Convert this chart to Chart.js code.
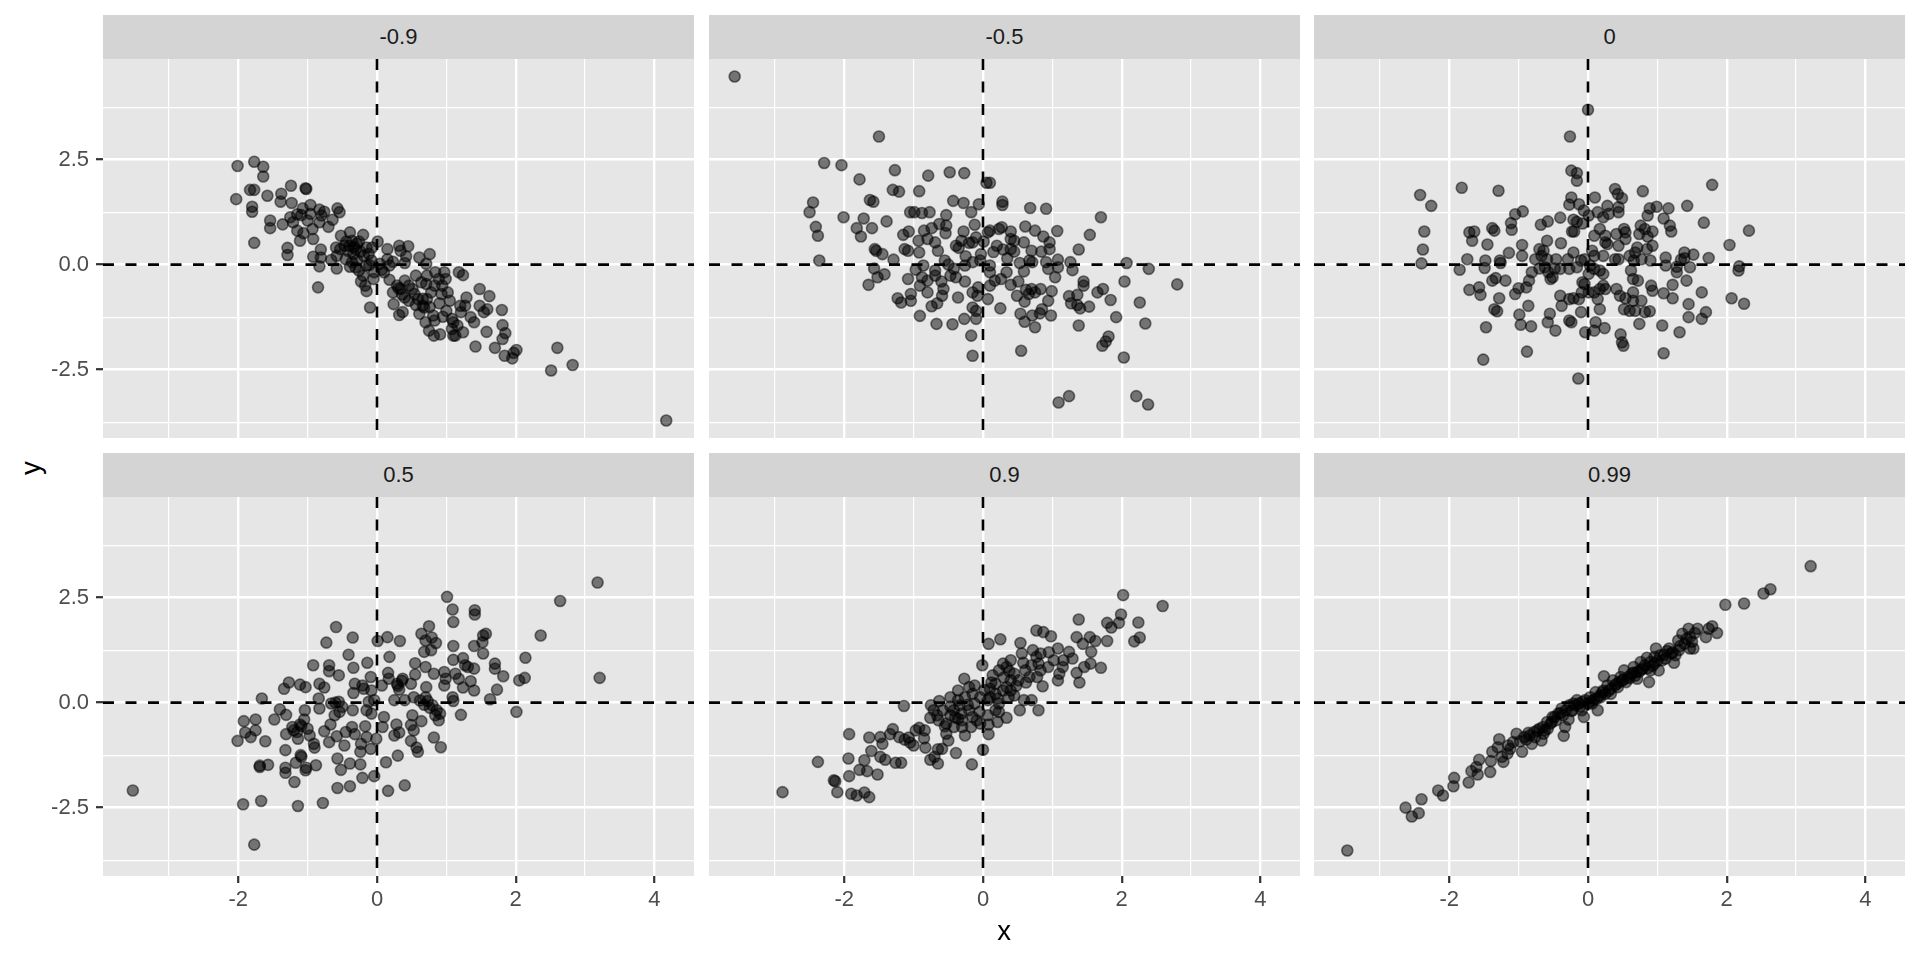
<!DOCTYPE html>
<html>
<head>
<meta charset="utf-8">
<script src="https://cdn.jsdelivr.net/npm/chart.js@4.4.1/dist/chart.umd.min.js"></script>
<style>
  html, body { margin: 0; padding: 0; background: #FFFFFF; }
  body { width: 1920px; height: 960px; position: relative; overflow: hidden;
         font-family: "Liberation Sans", Arial, Helvetica, sans-serif; }
  .strip { position: absolute; background: #D4D4D4; color: #1A1A1A; font-size: 22px;
           display: flex; align-items: center; justify-content: center; }
  canvas { position: absolute; }
  .axtitle { position: absolute; font-size: 27.5px; color: #000000; line-height: 1; white-space: nowrap; }
</style>
</head>
<body>
<script>
// ---------------- DATA ----------------
const panelLabels = ['-0.9', '-0.5', '0', '0.5', '0.9', '0.99'];

const rho_m09 = [[-2.01,2.35],[-1.77,2.45],[-1.64,2.33],[-1.64,2.10],[-1.83,1.78],[-1.77,1.78],[-2.03,1.56],[-1.80,1.38],[-1.80,1.26],[-1.58,1.64],[-1.38,1.69],[-1.39,1.50],[-1.24,1.88],[-1.02,1.80],[-1.03,1.82],[-1.23,1.47],[-1.07,1.34],[-0.96,1.42],[-0.83,1.31],[-0.76,1.26],[-0.57,1.34],[-0.54,1.25],[-0.64,1.07],[-0.80,1.17],[-0.96,1.21],[-1.09,1.18],[-1.25,1.13],[-1.36,0.96],[-1.54,1.05],[-1.54,0.87],[-1.77,0.52],[-1.29,0.40],[-1.29,0.23],[-1.21,1.01],[-1.15,0.81],[-1.11,0.57],[-1.06,0.75],[-0.93,0.85],[-0.92,0.61],[-0.83,1.01],[-0.81,0.36],[-0.92,0.19],[-0.81,0.17],[-0.83,-0.04],[-0.85,-0.54],[-0.66,0.11],[-0.59,0.41],[-0.58,-0.09],[-0.52,0.69],[-0.47,0.45],[-0.39,0.77],[-0.36,0.57],[-0.31,0.37],[-0.26,0.55],[-0.20,0.71],[-0.15,0.41],[-0.07,0.41],[0.01,0.55],[-0.45,0.13],[-0.36,0.06],[-0.31,-0.06],[-0.26,-0.14],[-0.20,-0.26],[-0.17,-0.50],[-0.15,-0.63],[-0.10,-1.02],[-0.05,-0.34],[-0.08,0.10],[0.04,0.02],[0.10,-0.18],[0.18,-0.36],[0.15,0.37],[0.23,0.07],[0.32,0.45],[0.34,0.33],[0.40,0.04],[0.45,0.44],[0.42,0.20],[0.61,0.17],[0.76,0.25],[0.71,0.02],[0.29,-0.50],[0.23,-0.66],[0.24,-0.94],[0.32,-1.20],[0.37,-1.13],[0.40,-0.78],[0.51,-0.58],[0.56,-0.26],[0.59,-0.82],[0.61,-1.17],[0.68,-1.02],[0.70,-1.37],[0.72,-0.82],[0.75,-1.57],[0.82,-1.69],[0.83,-1.33],[0.84,-0.18],[0.91,-1.66],[0.93,-0.70],[0.97,-0.18],[0.99,-0.34],[1.02,-0.66],[1.05,-0.86],[1.08,-1.29],[1.10,-1.69],[1.18,-0.18],[1.24,-0.25],[1.08,-1.53],[1.21,-1.13],[1.29,-0.78],[1.27,-0.98],[1.35,-1.25],[1.40,-1.37],[1.48,-0.58],[1.48,-0.98],[1.54,-1.13],[1.59,-1.06],[1.62,-0.75],[1.58,-1.60],[1.42,-1.95],[1.70,-1.98],[1.80,-1.08],[1.81,-1.44],[1.85,-1.63],[1.81,-1.77],[1.84,-2.17],[1.95,-2.23],[1.97,-2.10],[2.01,-2.03],[2.60,-1.98],[2.51,-2.52],[2.82,-2.39],[4.17,-3.71],[0.66,-0.98],[0.78,-0.66],[0.83,-0.50],[0.89,-0.34],[0.72,-0.26],[0.64,-0.42],[0.54,-0.70],[0.46,-0.50],[0.40,-0.38],[0.34,-0.58],[0.94,-0.50],[1.16,-1.45],[1.10,-1.37],[1.24,-1.61],[1.13,-1.69],[0.15,0.13],[0.18,-0.02],[0.07,-0.12],[-0.04,-0.18],[-0.15,-0.02],[-0.34,0.25],[-0.42,0.33],[-0.53,0.37],[-0.58,0.21],[-0.44,0.55],[-0.40,0.45],[-0.33,0.42],[-0.29,0.50],[-0.24,0.31],[-0.19,0.21],[-0.12,0.26],[-0.11,-0.01],[-0.29,0.11],[-0.39,-0.05],[-0.23,-0.40],[0.31,-0.56],[0.36,-0.71],[0.46,-0.86],[0.56,-0.96],[0.66,-0.81],[0.76,-1.01],[0.81,-1.21],[0.95,-1.24],[1.00,-1.10],[0.71,-0.46],[0.90,-0.92],[1.20,-0.98],[-1.00,1.05],[-1.15,1.20],[-0.70,0.90]];

const rho_m05 = [[-3.58,4.48],[-1.50,3.05],[-2.29,2.42],[-2.04,2.37],[-1.78,2.03],[-1.27,2.25],[-0.79,2.12],[-0.48,2.20],[-0.27,2.18],[0.05,1.95],[0.10,1.95],[-2.45,1.48],[-2.50,1.25],[-2.41,0.90],[-2.38,0.69],[-2.36,0.10],[-2.01,1.13],[-1.82,0.87],[-1.76,0.67],[-1.72,1.10],[-1.60,0.87],[-1.63,1.54],[-1.58,1.50],[-1.30,1.78],[-1.21,1.74],[-0.92,1.75],[-1.39,1.03],[-1.56,0.37],[-1.54,0.33],[-1.45,0.25],[-1.57,-0.09],[-1.52,-0.30],[-1.42,-0.23],[-1.65,-0.48],[-1.29,0.12],[-1.15,0.71],[-1.07,0.79],[-1.05,1.25],[-0.99,1.25],[-0.88,1.23],[-0.77,1.25],[-0.53,1.18],[-0.43,1.52],[-0.28,1.47],[-0.17,1.25],[-0.06,1.44],[0.28,1.50],[0.28,1.42],[0.68,1.35],[0.91,1.33],[1.70,1.13],[1.54,0.71],[1.38,0.36],[1.07,0.80],[0.96,0.53],[0.96,0.37],[0.84,0.31],[0.87,0.67],[0.75,0.81],[0.61,0.91],[0.40,0.79],[0.27,0.89],[0.10,0.81],[-0.12,0.95],[-0.28,0.79],[-0.53,0.93],[-0.63,0.97],[-0.74,0.87],[-0.85,0.81],[-0.54,0.75],[-0.69,0.53],[-0.80,0.61],[-0.93,0.57],[-1.08,0.33],[-1.13,0.37],[-0.92,0.29],[-0.65,0.33],[-0.39,0.45],[-0.31,0.57],[-0.20,0.52],[-0.15,0.53],[0.01,0.55],[-0.03,0.25],[0.07,0.77],[0.23,0.85],[0.40,0.61],[0.45,0.57],[0.59,0.53],[0.29,0.36],[0.40,0.37],[0.45,0.31],[0.70,0.33],[0.67,0.10],[0.53,0.04],[0.59,-0.16],[0.71,0.06],[0.91,0.06],[1.08,0.12],[1.08,-0.06],[1.26,0.06],[1.29,-0.13],[0.94,-0.10],[1.04,-0.30],[0.99,-0.63],[0.94,-0.86],[0.85,-1.06],[0.82,-1.16],[0.98,-1.21],[0.71,-1.21],[0.75,-1.49],[0.60,-1.36],[0.54,-1.17],[0.60,-0.88],[0.49,-0.74],[0.70,-0.58],[0.75,-0.66],[0.83,-0.58],[0.40,-0.48],[0.51,-0.40],[0.34,-0.18],[0.26,-0.34],[0.17,-0.38],[0.10,-0.18],[0.10,-0.50],[0.07,-0.82],[0.25,-1.04],[0.55,-2.05],[-0.15,-1.02],[-0.10,-1.10],[-0.10,-1.29],[-0.17,-1.69],[-0.15,-2.17],[-0.27,-1.29],[-0.44,-1.42],[-0.67,-1.41],[-0.91,-1.22],[-0.74,-0.99],[-0.66,-0.92],[-0.59,-0.74],[-0.57,-0.58],[-0.36,-0.78],[-0.15,-0.66],[-0.07,-0.54],[-0.08,-0.74],[-0.26,-0.40],[-0.39,-0.30],[-0.47,-0.26],[-0.69,-0.26],[-0.80,-0.38],[-0.91,-0.50],[-0.80,-0.66],[-1.04,-0.70],[-1.04,-0.86],[-1.23,-0.80],[-1.18,-0.90],[-1.08,-0.34],[-0.97,-0.12],[-0.86,-0.02],[-0.88,-0.30],[-0.69,-0.14],[-0.55,0.10],[-0.42,-0.10],[-0.26,-0.02],[-0.15,0.06],[-0.04,0.10],[0.10,-0.02],[2.07,0.04],[2.39,-0.10],[2.04,-0.40],[2.80,-0.47],[2.26,-0.90],[2.34,-1.40],[1.92,-1.25],[1.84,-0.84],[1.73,-0.58],[1.65,-0.66],[1.53,-1.00],[1.40,-1.04],[1.36,-0.96],[1.27,-0.92],[1.24,-0.75],[1.36,-0.72],[1.45,-0.40],[1.45,-0.50],[1.38,-1.45],[1.81,-1.71],[1.72,-1.93],[1.77,-1.83],[2.03,-2.21],[1.09,-3.28],[1.24,-3.13],[2.21,-3.13],[2.38,-3.33],[-0.35,0.40],[-0.25,0.20],[0.20,0.45],[0.35,0.15],[0.62,-0.60],[0.66,-0.70],[-0.60,-0.40],[-0.50,0.00],[0.15,0.30],[-0.10,0.65]];

const rho_0 = [[0.00,3.69],[-0.26,3.05],[-0.24,2.24],[-0.16,2.18],[-0.16,2.00],[-2.42,1.66],[-2.26,1.40],[-1.82,1.83],[-1.29,1.76],[-2.36,0.79],[-2.38,0.36],[-2.40,0.03],[-1.85,-0.12],[-1.74,0.13],[-1.71,0.77],[-1.64,0.79],[-1.67,0.57],[-1.38,0.87],[-1.35,0.81],[-1.45,0.48],[-1.48,0.10],[-1.49,-0.08],[-1.27,0.10],[-1.26,0.04],[-1.14,0.28],[-1.10,0.83],[-1.11,0.99],[-1.05,1.20],[-0.94,1.27],[-0.95,0.47],[-0.68,0.95],[-0.58,1.03],[-0.40,1.12],[-0.39,0.51],[-0.59,0.57],[-0.70,0.37],[-0.76,0.13],[-0.67,0.21],[-0.62,-0.06],[-0.70,-0.09],[-0.57,-0.18],[-0.48,-0.09],[-0.54,-0.34],[-0.40,-0.10],[-0.29,0.13],[-0.21,0.29],[-0.21,1.07],[-0.23,0.79],[-0.20,0.79],[-0.24,1.60],[-0.27,1.43],[-0.13,1.44],[-0.06,1.29],[-0.16,1.02],[-0.08,0.98],[0.10,1.60],[0.01,1.17],[0.14,1.25],[0.22,1.13],[0.28,1.40],[0.39,1.80],[0.43,1.68],[0.49,1.58],[0.44,1.37],[0.44,1.25],[0.30,1.21],[0.17,0.85],[0.09,0.69],[0.25,0.69],[0.28,0.49],[0.41,0.73],[0.52,0.85],[0.54,0.77],[0.54,0.61],[0.44,0.45],[0.06,0.33],[-0.05,0.13],[0.03,-0.02],[0.09,-0.10],[0.17,-0.14],[0.01,-0.22],[-0.08,-0.42],[-0.09,-0.66],[-0.13,-0.82],[-0.10,-1.13],[-0.27,-0.82],[-0.21,-0.80],[-0.38,-0.98],[-0.40,-0.74],[-0.27,-1.33],[-0.24,-1.37],[-0.47,-1.57],[-0.55,-1.17],[-0.58,-1.37],[-0.04,-1.61],[0.09,-1.57],[0.11,-1.37],[0.24,-1.51],[0.14,-0.82],[0.25,-0.58],[0.22,-0.50],[0.41,-0.58],[0.46,-0.74],[0.54,-0.80],[0.65,-0.66],[0.65,-0.86],[0.77,-0.86],[0.52,-1.06],[0.60,-1.10],[0.68,-1.10],[0.82,-1.13],[0.89,-1.11],[0.74,-1.41],[0.47,-1.66],[0.49,-1.85],[0.51,-1.93],[1.07,-1.45],[1.09,-2.11],[1.32,-1.61],[1.45,-1.25],[1.45,-0.94],[1.64,-1.29],[1.70,-1.13],[1.64,-0.66],[1.22,-0.80],[1.09,-0.68],[0.93,-0.62],[0.91,-0.50],[1.22,-0.48],[1.42,-0.38],[1.28,-0.18],[1.47,-0.06],[1.39,0.15],[1.39,0.29],[1.52,0.24],[1.74,0.16],[2.18,-0.04],[2.17,-0.14],[2.07,-0.80],[2.25,-0.93],[2.04,0.47],[2.32,0.81],[1.67,1.00],[1.43,1.40],[1.79,1.90],[1.16,1.34],[0.99,1.38],[0.89,1.34],[0.86,1.17],[1.09,1.10],[1.18,0.93],[1.20,0.79],[0.79,1.75],[0.76,0.93],[0.82,0.85],[0.93,0.79],[0.74,0.73],[0.86,0.67],[0.93,0.45],[0.85,0.37],[0.71,0.41],[0.68,0.29],[0.77,0.13],[0.90,0.10],[0.66,0.10],[0.62,-0.14],[0.65,-0.34],[0.72,-0.38],[1.12,0.17],[1.12,-0.02],[1.28,-0.05],[1.34,0.12],[-0.95,0.21],[-0.81,-0.18],[-0.85,-0.38],[-0.89,-0.54],[-1.00,-0.56],[-1.05,-0.70],[-1.28,-0.80],[-1.33,-0.32],[-1.38,-0.38],[-1.19,-0.38],[-1.57,-0.54],[-1.71,-0.60],[-1.55,-0.72],[-1.35,-1.06],[-1.31,-1.11],[-0.86,-0.98],[-0.99,-1.19],[-0.97,-1.43],[-0.82,-1.47],[-1.47,-1.49],[-0.88,-2.07],[-1.51,-2.26],[-0.14,-2.71],[0.25,0.53],[0.22,0.21],[0.39,0.13],[0.44,0.13],[0.60,0.21],[0.22,-0.22],[0.09,0.21],[-0.16,-0.06],[-0.10,0.10],[-0.27,-0.10],[-0.46,0.13],[-0.59,0.13],[-0.64,0.33],[-0.51,-0.30],[-0.05,-0.46],[0.01,-0.66],[0.09,-0.66],[0.17,-0.58],[0.17,-1.06]];

const rho_05 = [[-3.52,-2.09],[-1.77,-3.38],[-1.93,-2.42],[-1.67,-2.34],[-1.14,-2.46],[-0.78,-2.39],[-0.57,-2.03],[-0.39,-1.99],[-0.21,-1.79],[-0.04,-1.75],[0.16,-2.10],[0.40,-1.97],[0.13,-1.42],[0.30,-1.26],[-1.69,-1.50],[-1.57,-1.48],[-1.69,-1.53],[-1.32,-1.55],[-1.32,-1.67],[-1.19,-1.89],[-1.17,-1.43],[-1.09,-1.29],[-1.03,-1.61],[-1.02,-1.55],[-0.88,-1.49],[-1.32,-1.13],[-2.01,-0.91],[-1.92,-0.44],[-1.90,-0.71],[-1.82,-0.82],[-1.75,-0.40],[-1.75,-0.66],[-1.61,-0.92],[-1.66,0.10],[-1.48,-0.40],[-1.40,-0.16],[-1.31,-0.29],[-1.31,-0.75],[-1.22,-0.58],[-1.20,-0.66],[-1.11,-0.52],[-1.09,-0.56],[-1.14,-0.86],[-1.04,-0.18],[-1.05,-0.40],[-0.97,-0.78],[-0.91,-0.98],[-0.90,-1.07],[-1.10,-1.25],[-1.34,0.33],[-1.27,0.48],[-1.11,0.43],[-1.03,0.37],[-0.92,0.89],[-0.83,0.45],[-0.84,0.10],[-0.83,-0.14],[-0.76,0.36],[-0.73,1.43],[-0.69,0.89],[-0.69,0.75],[-0.59,1.80],[-0.55,0.65],[-0.76,-0.68],[-0.69,-0.94],[-0.67,-0.52],[-0.61,-0.30],[-0.66,-0.02],[-0.55,0.02],[-0.54,-0.22],[-0.57,-1.33],[-0.52,-1.60],[-0.39,-1.45],[-0.24,-1.47],[-0.47,-1.02],[-0.45,-0.70],[-0.58,-0.80],[-0.35,-0.18],[-0.36,-0.58],[-0.32,-0.75],[-0.23,-0.98],[-0.24,-1.17],[-0.09,-1.10],[-0.15,-0.82],[-0.17,-0.56],[-0.01,-0.86],[-0.08,-0.26],[-0.15,-0.18],[-0.12,0.02],[-0.04,0.06],[-0.41,1.14],[-0.35,1.55],[-0.34,0.83],[-0.32,0.45],[-0.34,0.23],[-0.19,0.33],[-0.21,0.41],[-0.14,0.95],[-0.09,0.61],[-0.08,0.29],[0.01,1.47],[0.15,1.56],[0.33,1.47],[0.18,1.09],[0.16,0.71],[0.17,0.57],[0.07,0.41],[0.29,0.45],[0.32,0.31],[0.37,0.57],[0.40,0.06],[0.25,0.06],[0.10,-0.34],[0.08,-0.58],[0.28,-0.52],[0.32,-0.71],[0.25,-0.78],[0.49,-0.53],[0.53,-0.66],[0.51,-0.30],[0.64,-0.44],[0.49,-0.91],[0.57,-1.07],[0.59,-1.17],[0.82,-0.83],[0.92,-1.06],[0.55,0.94],[0.55,0.67],[0.49,0.45],[0.53,0.13],[0.64,1.64],[0.75,1.82],[0.70,1.48],[0.79,1.55],[0.85,1.42],[0.78,1.25],[0.68,1.21],[0.70,0.85],[0.82,0.69],[0.71,0.37],[0.70,0.13],[0.73,0.04],[0.80,-0.06],[0.86,-0.18],[0.91,-0.26],[0.89,-0.42],[0.97,0.73],[0.99,0.57],[0.97,0.41],[1.01,2.52],[1.09,2.22],[1.10,1.92],[1.10,1.35],[1.10,1.02],[1.13,0.69],[1.09,0.13],[1.10,0.04],[1.21,-0.29],[1.24,1.06],[1.27,0.89],[1.31,0.85],[1.18,0.57],[1.24,0.36],[1.35,0.51],[1.40,0.29],[1.40,0.81],[1.40,1.35],[1.41,2.20],[1.41,2.10],[1.52,1.44],[1.53,1.60],[1.57,1.64],[1.53,1.17],[1.70,0.93],[1.70,0.81],[1.82,0.63],[1.73,0.31],[1.63,0.08],[2.01,-0.22],[2.05,0.53],[2.13,0.59],[2.14,1.07],[2.36,1.60],[2.64,2.42],[3.18,2.86],[3.21,0.59],[0.30,0.40],[0.36,0.52],[0.62,0.05],[0.68,-0.05],[0.76,-0.12],[0.84,-0.30],[-0.50,-0.10],[-0.60,0.00],[-1.00,-0.62],[-1.15,-0.70]];

const rho_09 = [[-2.89,-2.13],[-2.38,-1.41],[-2.13,-1.87],[-2.15,-1.85],[-2.10,-2.13],[-1.93,-0.75],[-1.94,-1.33],[-1.93,-1.75],[-1.90,-2.17],[-1.82,-2.21],[-1.71,-2.14],[-1.64,-2.25],[-1.78,-1.60],[-1.71,-1.37],[-1.67,-1.63],[-1.52,-1.71],[-1.64,-0.83],[-1.61,-1.15],[-1.48,-0.82],[-1.45,-0.98],[-1.48,-1.29],[-1.41,-1.36],[-1.30,-0.63],[-1.34,-0.75],[-1.26,-1.43],[-1.18,-1.43],[-1.21,-0.82],[-1.14,-0.08],[-1.13,-0.88],[-1.07,-0.83],[-1.00,-1.02],[-0.97,-0.66],[-0.92,-0.60],[-0.84,-0.66],[-0.83,-1.07],[-0.76,-1.36],[-0.70,-1.29],[-0.65,-1.45],[-0.65,-1.11],[-0.59,-1.10],[-0.39,-1.20],[-0.50,-0.90],[-0.53,-0.74],[-0.55,-0.56],[-0.76,-0.36],[-0.75,-0.06],[-0.71,-0.18],[-0.63,0.04],[-0.47,0.13],[-0.47,-0.30],[-0.42,-0.18],[-0.34,-0.06],[-0.36,-0.38],[-0.30,-0.58],[-0.26,-0.78],[-0.17,-0.58],[-0.16,-1.47],[-0.09,-0.42],[-0.05,-0.22],[0.00,-1.12],[0.08,-0.75],[0.08,-0.52],[0.07,-0.30],[0.21,-0.46],[0.23,-0.22],[0.34,-0.36],[-0.27,0.57],[-0.36,0.29],[-0.20,0.37],[-0.12,0.41],[-0.04,0.13],[-0.01,0.89],[0.08,1.40],[0.25,1.51],[0.54,1.42],[0.77,1.72],[0.87,1.68],[0.98,1.58],[0.56,1.17],[0.72,1.25],[0.83,1.17],[0.77,1.09],[0.40,1.01],[0.29,0.93],[0.34,0.85],[0.23,0.77],[0.14,0.65],[0.18,0.45],[0.10,0.33],[0.18,0.21],[0.10,0.13],[0.34,0.37],[0.40,0.29],[0.45,0.17],[0.37,0.13],[0.53,-0.18],[0.59,0.06],[0.70,0.06],[0.80,-0.18],[0.51,0.53],[0.61,0.77],[0.67,0.61],[0.78,0.61],[0.86,0.39],[0.83,0.77],[0.94,0.85],[1.02,1.01],[1.08,1.29],[1.10,0.69],[1.08,0.53],[1.16,1.01],[1.24,1.21],[1.29,1.05],[1.35,1.56],[1.38,1.98],[1.35,0.71],[1.39,0.48],[1.46,0.85],[1.44,1.40],[1.54,1.56],[1.56,1.21],[1.55,0.93],[1.70,0.83],[1.62,1.47],[1.79,1.47],[1.79,1.90],[1.85,1.79],[1.96,1.90],[1.99,2.10],[2.02,2.56],[2.24,1.91],[2.18,1.46],[2.26,1.55],[2.59,2.30],[0.80,0.93],[0.70,0.89],[0.45,0.69],[0.40,0.53],[0.29,0.29],[0.21,0.10],[0.07,0.06],[-0.12,-0.02],[-0.20,-0.18],[-0.31,-0.26],[-0.36,0.06],[-0.26,0.13],[-0.15,0.21],[-0.47,-0.09],[-0.58,-0.18],[-0.64,-0.42],[-0.53,-0.50],[-0.42,-0.58],[-0.15,-0.34],[-0.04,-0.50],[0.18,-0.18],[0.23,-0.02],[0.30,0.60],[0.38,0.75],[0.48,0.40],[0.58,0.95],[0.62,0.48],[0.12,0.48],[0.02,0.30],[-0.22,-0.05],[-0.40,-0.35],[-0.30,-0.42],[-0.66,-0.30],[-0.85,-0.85],[-1.05,-0.95],[0.95,1.20],[1.15,0.85]];

const rho_099 = [[-3.47,-3.52],[-2.63,-2.50],[-2.54,-2.71],[-2.44,-2.63],[-2.40,-2.30],[-2.16,-2.09],[-2.09,-2.21],[-1.93,-1.79],[-1.94,-1.99],[-1.72,-1.90],[-1.68,-1.63],[-1.61,-1.53],[-1.57,-1.36],[-1.59,-1.71],[-1.41,-1.65],[-1.40,-1.39],[-1.38,-1.17],[-1.28,-0.87],[-1.30,-1.06],[-1.22,-1.41],[-1.24,-1.29],[-1.16,-1.21],[-1.15,-1.02],[-1.08,-0.94],[-1.03,-0.74],[-0.95,-1.17],[-0.92,-0.82],[-0.86,-0.72],[-0.81,-0.98],[-0.76,-0.82],[-0.70,-0.62],[-0.67,-0.90],[-0.64,-0.74],[-0.58,-0.62],[-0.54,-0.50],[-0.51,-0.34],[-0.46,-0.42],[-0.43,-0.26],[-0.38,-0.14],[-0.35,-0.79],[-0.33,-0.58],[-0.28,-0.40],[-0.22,-0.18],[-0.21,-0.02],[-0.16,0.06],[-0.09,-0.18],[-0.06,-0.34],[-0.04,0.06],[0.03,0.13],[0.06,-0.02],[0.11,0.25],[0.14,-0.18],[0.18,0.13],[0.23,0.63],[0.22,0.29],[0.28,0.41],[0.33,0.21],[0.36,0.53],[0.43,0.37],[0.47,0.61],[0.52,0.77],[0.55,0.49],[0.63,0.69],[0.66,0.85],[0.71,0.57],[0.76,0.97],[0.79,0.81],[0.85,1.07],[0.88,0.49],[0.90,0.77],[0.96,0.93],[0.98,1.29],[1.02,0.77],[1.07,1.01],[1.14,1.23],[1.20,1.17],[1.24,0.95],[1.26,1.13],[1.31,1.25],[1.30,1.48],[1.36,1.64],[1.45,1.76],[1.42,1.52],[1.47,1.29],[1.52,1.29],[1.54,1.66],[1.58,1.76],[1.70,1.56],[1.74,1.76],[1.79,1.82],[1.86,1.66],[1.98,2.33],[2.25,2.36],[2.53,2.60],[2.63,2.70],[3.21,3.25],[-0.89,-0.88],[-0.84,-0.78],[-0.73,-0.66],[-0.65,-0.58],[-0.59,-0.46],[-0.48,-0.34],[-0.40,-0.25],[-0.32,-0.18],[-0.27,-0.06],[-0.18,-0.06],[-0.13,-0.02],[-0.08,0.02],[0.00,-0.02],[0.09,0.07],[0.17,0.17],[0.25,0.21],[0.33,0.33],[0.39,0.41],[0.45,0.49],[0.51,0.55],[0.58,0.61],[0.65,0.71],[0.70,0.73],[0.77,0.79],[0.82,0.89],[0.90,0.97],[0.96,1.09],[1.04,1.13],[1.12,1.05],[1.17,1.29],[1.39,1.40],[1.47,1.56],[-1.12,-1.10],[-0.98,-0.92],[-0.78,-0.70],[-0.62,-0.66],[-0.52,-0.46],[-0.36,-0.30],[-0.24,-0.20],[-0.11,-0.09],[0.04,0.03],[0.13,0.10],[0.21,0.25],[0.30,0.28],[0.41,0.45],[0.49,0.52],[0.60,0.58],[0.68,0.64],[0.74,0.74],[0.86,0.82],[0.93,0.88],[1.00,1.00],[1.10,1.14],[1.22,1.20],[1.33,1.35],[1.50,1.45]];

const xTickValues = [-3, -2, -1, 0, 1, 2, 3, 4];
const xTickLabelled = [-2, 0, 2, 4];
const yTickValues = [-3.75, -2.5, -1.25, 0, 1.25, 2.5, 3.75];
const yTickLabelled = [-2.5, 0, 2.5];
const xLimits = [-3.95, 4.57];
const yLimits = [-4.127, 4.897];
const refX = 0;  // vertical dashed reference line
const refY = 0;  // horizontal dashed reference line

// ---------------- LAYOUT / STYLE ----------------
const FONT = '"Liberation Sans", Arial, Helvetica, sans-serif';
const PANEL_BG = '#E6E6E6';
const colLeft = [103, 709, 1314];
const rowTop = [59, 497];
const PW = 591, PH = 379, STRIP_H = 44, Y_AXIS_W = 103, X_AXIS_H = 60;

const panelBg = {
  id: 'panelBg',
  beforeDraw(chart) {
    const a = chart.chartArea, ctx = chart.ctx;
    ctx.save();
    ctx.fillStyle = PANEL_BG;
    ctx.fillRect(a.left, a.top, a.right - a.left, a.bottom - a.top);
    ctx.restore();
  }
};

const panels = [rho_m09, rho_m05, rho_0, rho_05, rho_09, rho_099];
const isIn = (arr, v) => arr.some(t => Math.abs(t - v) < 1e-9);

panels.forEach((pts, i) => {
  const r = Math.floor(i / 3), c = i % 3;
  const showY = c === 0, showX = r === 1;

  const strip = document.createElement('div');
  strip.className = 'strip';
  strip.style.left = colLeft[c] + 'px';
  strip.style.top = (rowTop[r] - STRIP_H) + 'px';
  strip.style.width = PW + 'px';
  strip.style.height = STRIP_H + 'px';
  strip.textContent = panelLabels[i];
  document.body.appendChild(strip);

  const lw = showY ? Y_AXIS_W : 0, bh = showX ? X_AXIS_H : 0;
  const cv = document.createElement('canvas');
  cv.width = PW + lw; cv.height = PH + bh;
  cv.style.left = (colLeft[c] - lw) + 'px';
  cv.style.top = rowTop[r] + 'px';
  cv.style.width = (PW + lw) + 'px';
  cv.style.height = (PH + bh) + 'px';
  document.body.appendChild(cv);

  new Chart(cv, {
    type: 'scatter',
    data: {
      datasets: [
        { data: [{x: xLimits[0], y: refY}, {x: xLimits[1], y: refY}], showLine: true, pointRadius: 0,
          borderColor: '#000000', borderWidth: 2.6, borderDash: [11, 11.5], fill: false },
        { data: [{x: refX, y: yLimits[1]}, {x: refX, y: yLimits[0]}], showLine: true, pointRadius: 0,
          borderColor: '#000000', borderWidth: 2.6, borderDash: [11, 11.5], fill: false },
        { data: pts.map(p => ({x: p[0], y: p[1]})), pointRadius: 5.5, pointBorderWidth: 1.6,
          backgroundColor: 'rgba(0,0,0,0.5)', borderColor: 'rgba(0,0,0,0.5)' }
      ]
    },
    options: {
      responsive: false, animation: false, events: [],
      layout: { padding: 0, autoPadding: false },
      plugins: { legend: { display: false }, tooltip: { enabled: false } },
      scales: {
        x: {
          type: 'linear', position: 'bottom', min: xLimits[0], max: xLimits[1],
          afterBuildTicks: s => { s.ticks = xTickValues.map(v => ({ value: v })); },
          afterFit: s => { s.height = bh; s.paddingLeft = 0; s.paddingRight = 0; s.paddingTop = 0; s.paddingBottom = 0; },
          border: { display: false },
          grid: {
            color: '#FFFFFF',
            lineWidth: ctx => (ctx.tick && isIn(xTickLabelled, ctx.tick.value)) ? 2.4 : 1.2,
            drawTicks: showX, tickLength: 7, tickWidth: 2.2,
            tickColor: ctx => (ctx.tick && isIn(xTickLabelled, ctx.tick.value)) ? '#333333' : 'rgba(0,0,0,0)'
          },
          ticks: {
            display: showX, autoSkip: false, maxRotation: 0, minRotation: 0, padding: 4,
            color: '#4D4D4D', font: { family: FONT, size: 22 },
            callback: v => isIn(xTickLabelled, v) ? String(v) : ''
          }
        },
        y: {
          type: 'linear', position: 'left', min: yLimits[0], max: yLimits[1],
          afterBuildTicks: s => { s.ticks = yTickValues.map(v => ({ value: v })); },
          afterFit: s => { s.width = lw; s.paddingLeft = 0; s.paddingRight = 0; s.paddingTop = 0; s.paddingBottom = 0; },
          border: { display: false },
          grid: {
            color: '#FFFFFF',
            lineWidth: ctx => (ctx.tick && isIn(yTickLabelled, ctx.tick.value)) ? 2.4 : 1.2,
            drawTicks: showY, tickLength: 7, tickWidth: 2.2,
            tickColor: ctx => (ctx.tick && isIn(yTickLabelled, ctx.tick.value)) ? '#333333' : 'rgba(0,0,0,0)'
          },
          ticks: {
            display: showY, autoSkip: false, padding: 7,
            color: '#4D4D4D', font: { family: FONT, size: 22 },
            callback: v => isIn(yTickLabelled, v) ? v.toFixed(1) : ''
          }
        }
      }
    },
    plugins: [panelBg]
  });
});

// axis titles
const xt = document.createElement('div');
xt.className = 'axtitle'; xt.textContent = 'x';
xt.style.left = '1004px'; xt.style.top = '931px'; xt.style.transform = 'translate(-50%, -50%)';
document.body.appendChild(xt);
const yt = document.createElement('div');
yt.className = 'axtitle'; yt.textContent = 'y';
yt.style.left = '31px'; yt.style.top = '468px'; yt.style.transform = 'translate(-50%, -50%) rotate(-90deg)';
document.body.appendChild(yt);
</script>
</body>
</html>
